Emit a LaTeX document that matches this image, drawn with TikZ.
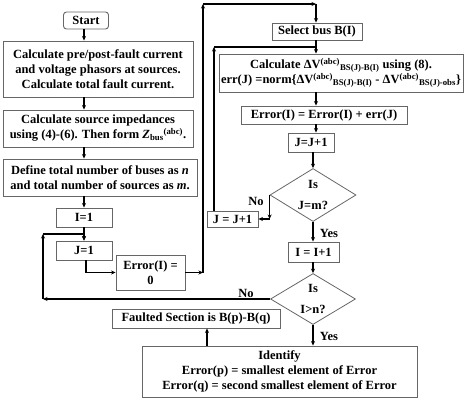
\documentclass[tikz,border=0pt]{standalone}
\usepackage{fontspec}
\setmainfont{Liberation Serif}
\usetikzlibrary{shapes.geometric,arrows.meta}
\begin{document}
\begin{tikzpicture}[x=1pt,y=-1pt,
  txt/.style={font=\fontsize{12.5}{15}\selectfont\bfseries},
  box/.style={txt,draw=black!60,line width=0.9pt,rectangle,inner sep=0pt,align=center},
  dia/.style={txt,draw=black!60,line width=0.8pt,diamond,aspect=1.6,inner sep=0pt,align=center},
  arr/.style={line width=1.1pt,-{Stealth[length=4.5pt,width=4pt]}},
  ln/.style={line width=1.1pt},
  lbl/.style={txt,inner sep=0pt}]
\useasboundingbox (0,0) rectangle (474,420);
% left column
\node[box,rounded corners=3pt,minimum width=45pt,minimum height=17pt] (start) at (86,20.5) {Start};
\node[box,minimum width=190pt,minimum height=56pt] (b1) at (98,69)
  {Calculate pre/post-fault current\\and voltage phasors at sources.\\Calculate total fault current.};
\node[box,minimum width=190pt,minimum height=37pt] (b2) at (98,128.5)
  {Calculate source impedances\\using (4)-(6). Then form \textit{Z}\textsubscript{bus}\textsuperscript{(abc)}.};
\node[box,minimum width=194pt,minimum height=37pt] (b3) at (100,177.5)
  {Define total number of buses as \textit{n}\\and total number of sources as \textit{m}.};
\node[box,minimum width=56pt,minimum height=19pt] (i1) at (84,217.5) {I=1};
\node[box,minimum width=56pt,minimum height=19pt] (j1) at (84,250.5) {J=1};
\node[box,minimum width=69pt,minimum height=35pt] (err0) at (150.5,272.5) {Error(I) =\\0};
% right column
\node[box,minimum width=90pt,minimum height=17pt] (sel) at (317,31.5) {Select bus B(I)};
\node[box,minimum width=244pt,minimum height=38pt] (dv) at (341,73)
  {Calculate ΔV\textsuperscript{(abc)}\textsubscript{BS(J)-B(I)} using (8).\\
   err(J) =norm\{ΔV\textsuperscript{(abc)}\textsubscript{BS(J)-B(I)} - ΔV\textsuperscript{(abc)}\textsubscript{BS(J)-obs}\}};
\node[box,minimum width=166pt,minimum height=18pt] (erri) at (324,115) {Error(I) = Error(I) + err(J)};
\node[box,minimum width=46pt,minimum height=19pt] (jj) at (311,142.5) {J=J+1};
\node[dia,minimum width=86pt,minimum height=53pt] (d1) at (313,195) {Is\\[6pt]J=m?};
\node[box,minimum width=51pt,minimum height=16pt] (jj2) at (232.5,219) {J = J+1};
\node[box,minimum width=51pt,minimum height=20pt] (ii) at (313.5,252) {I = I+1};
\node[dia,minimum width=85pt,minimum height=51pt] (d2) at (313,299) {Is\\[6pt]I\textgreater n?};
\node[box,minimum width=168pt,minimum height=19pt] (fault) at (196,318.5) {Faulted Section is B(p)-B(q)};
\node[box,minimum width=275pt,minimum height=51pt] (ident) at (279.5,371.5)
  {Identify\\Error(p) = smallest element of Error\\Error(q) = second smallest element of Error};
% labels
\node[lbl] (no1) at (256,201) {No};
\node[lbl] (yes1) at (329,233) {Yes};
\node[lbl] (no2) at (246,293) {No};
\node[lbl] (yes2) at (329,336) {Yes};
% helper coordinates
\coordinate (cL) at (84,0);
\coordinate (cR) at (316,0);
\coordinate (cF) at (207,0);
\coordinate (o1) at (203,272.5);
\coordinate (o2) at (203,4);
\coordinate (o3) at (316,4);
\coordinate (p1) at (214,47);
\coordinate (p2) at (316,47);
\coordinate (r1) at (43,299);
\coordinate (r2) at (43,234);
\coordinate (r3) at (84,234);
% left column arrows
\draw[arr] (start.south -| cL) -- (b1.north -| cL);
\draw[arr] (b1.south -| cL) -- (b2.north -| cL);
\draw[arr] (b2.south -| cL) -- (b3.north -| cL);
\draw[arr] (b3.south -| cL) -- (i1.north);
\draw[arr] (i1.south) -- (j1.north);
\draw[arr] ([xshift=2pt]j1.south) |- (err0.west);
% to select bus
\draw[arr] (err0.east) -- (o1);
\draw[arr] (o1) -- (o2);
\draw[arr] (o2) -- (o3);
\draw[arr] (o3) -- (sel.north -| o3);
% right column
\draw[arr] (sel.south -| cR) -- (dv.north -| cR);
\draw[arr] (dv.south -| cR) -- (erri.north -| cR);
\draw[arr] (erri.south -| cR) -- (jj.north -| cR);
\draw[arr] (jj.south -| d1.north) -- (d1.north);
% inner loop
\draw[arr] (d1.west) -- (d1.west |- jj2.east);
\draw[arr] (d1.west |- jj2.east) -- (jj2.east);
\draw[arr] (jj2.north -| p1) -- (p1);
\draw[ln] (p1) -- (p2);
% yes path
\draw[arr] (d1.south) -- (d1.south |- ii.north);
\draw[arr] (ii.south -| d2.north) -- (d2.north);
\draw[arr] (d2.south) -- (d2.south |- ident.north);
% outer loop
\draw[arr] (d2.west) -- (r1);
\draw[arr] (r1) -- (r2);
\draw[ln] (r2) -- (r3);
\draw[arr] (r3) -- (j1.north);
% faulted
\draw[arr] (ident.north -| cF) -- (fault.south -| cF);
\end{tikzpicture}
\end{document}
